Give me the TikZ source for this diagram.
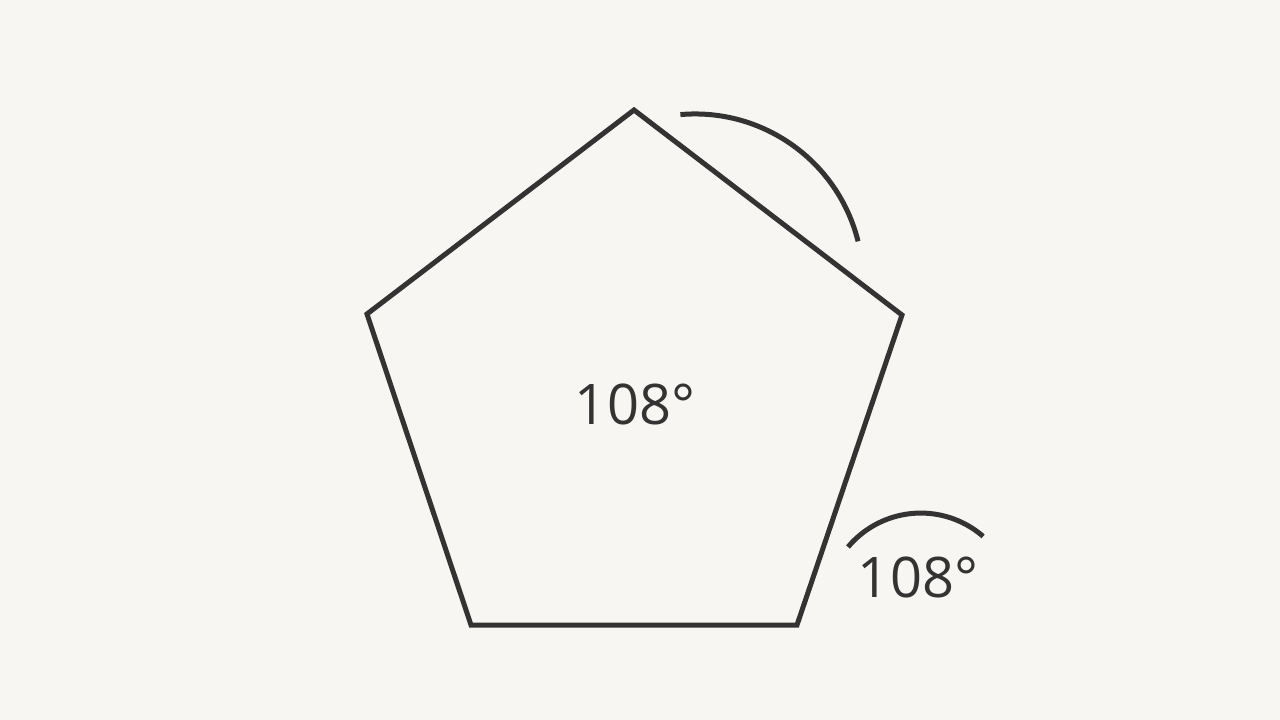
\documentclass[tikz,border=0pt]{standalone}
\usepackage{fontspec}
\setmainfont{Open Sans}
\definecolor{bg}{HTML}{F8F6F2}
\definecolor{ink}{HTML}{333333}
\begin{document}
\begin{tikzpicture}[x=1pt,y=-1pt,
  shape line/.style={draw=ink,line width=5pt,line join=miter},
  arc line/.style={draw=ink,line width=5pt},
  angle label/.style={text=ink,font=\fontsize{56}{68}\selectfont,inner sep=0pt,anchor=center}]
\fill[bg] (0,0) rectangle (1280,720);
\useasboundingbox (0,0) rectangle (1280,720);
\coordinate (A) at (634,110);
\coordinate (B) at (902,315);
\coordinate (C) at (797,625);
\coordinate (D) at (471,625);
\coordinate (E) at (367,314);
\draw[shape line] (A) -- (B) -- (C) -- (D) -- (E) -- cycle;
\draw[arc line] (680.4,114.6) arc[start angle=-95,end angle=-14,radius=168];
\draw[arc line] (848,547) arc[start angle=-140,end angle=-49,radius=95];
\node[angle label] (inner) at (635,404) {108°};
\node[angle label] (outer) at (918,577) {108°};
\end{tikzpicture}
\end{document}
